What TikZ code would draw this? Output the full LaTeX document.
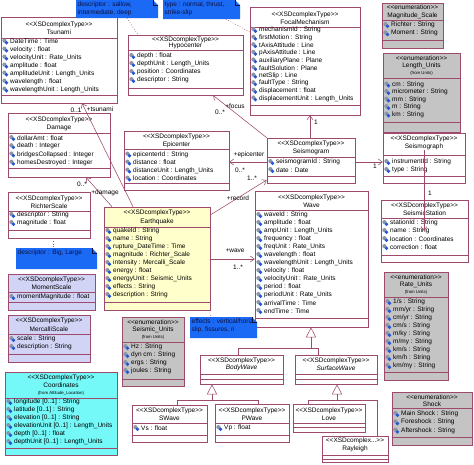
\documentclass[tikz,border=0pt]{standalone}
\usepackage{fontspec}
\setmainfont{Liberation Sans}
\usetikzlibrary{arrows.meta,fit}
\definecolor{bcol}{HTML}{9E4A6C}
\definecolor{eqfill}{HTML}{FFFFCC}
\definecolor{lav}{HTML}{D2D4F6}
\definecolor{cyanf}{HTML}{74F8F8}
\definecolor{enum}{HTML}{C4C4C4}
\definecolor{nfill}{HTML}{1A6AF5}
\definecolor{ntext}{HTML}{101040}
\definecolor{icg}{HTML}{8A96A8}
\definecolor{icb}{HTML}{2458D8}
\newcommand\fs{\fontsize{6.5}{7.8}\selectfont}
\newcommand\fsm{\fontsize{4.3}{5}\selectfont}
\newcommand\lls{<\kern0pt<}
\newcommand\ggs{>\kern0pt>}
\newcommand\stt{\lls XSDcomplexType\ggs}
\newcommand\ste{\lls enumeration\ggs}
\tikzset{
  box/.style={draw=bcol, line width=0.6pt},
  clsbox/.style={box, inner sep=0pt},
  hd/.style={font=\fs, inner sep=0pt, anchor=center},
  att/.style={font=\fs, inner sep=0pt, anchor=west},
  frm/.style={font=\fsm, inner sep=0pt},
  lbl/.style={font=\fs, inner sep=0pt},
  assoc/.style={draw=bcol, line width=0.55pt, -{Straight Barb[length=4pt,width=6pt]}},
  gline/.style={draw=bcol, line width=0.55pt},
  gen/.style={draw=bcol, line width=0.55pt, -{Triangle[open, length=10pt, width=10pt]}},
  dotl/.style={draw=bcol, line width=0.6pt, dotted},
  notet/.style={font=\fs, text=ntext, inner sep=0pt, align=left, anchor=north west}
}
% class box: name, x1, y1, x2, y2, fill, sep1, sep2
\newcommand\umlc[8]{%
  \node[clsbox, fill=#6, fit={(#2,#3) (#4,#5)}] (#1) {};
  \draw[box] (#2,#7) -- (#4,#7);
  \draw[box] (#2,#8) -- (#4,#8);
}
% header: name, y stereo, stereo, y name, name text
\newcommand\umlh[5]{%
  \node[hd] (#1-s) at (#1.north |- 0,#2) {#3};
  \node[hd] (#1-n) at (#1.north |- 0,#4) {#5};
}
% attributes: name, x1, y0, step, list
\newcommand\umla[5]{%
  \foreach \attx [count=\idx from 0] in {#5}{%
    \pgfmathsetmacro\yy{#3+\idx*#4}
    \fill[icg] (#2+3.4,\yy-0.9) circle (2.1);
    \fill[icb] (#2+5.4,\yy-0.7) -- (#2+7.3,\yy+1.2) -- (#2+5.4,\yy+3.1) -- (#2+3.5,\yy+1.2) -- cycle;
    \node[att] (#1-a\idx) at (#2+9,\yy) {\attx};
  }%
}
% note: name, x1, y1, x2, y2, text
\newcommand\umlnote[6]{%
  \node[inner sep=0pt, fit={(#2,#3) (#4,#5)}] (#1) {};
  \fill[nfill] (#2,#3) -- (#4-5,#3) -- (#4,#3+5) -- (#4,#5) -- (#2,#5) -- cycle;
  \draw[ntext, line width=0.4pt] (#4-5,#3) -- (#4-5,#3+5) -- (#4,#3+5);
  \node[notet] (#1-t) at (#2+1.5,#3+1.5) {#6};
}
\begin{document}
\begin{tikzpicture}[x=1pt,y=-1pt]
\fill[white] (0,0) rectangle (474,464);
\useasboundingbox (0,0) rectangle (474,464);

% ---- classes ----
\umlc{tsu}{1}{17}{117}{103}{white}{38}{95}
\umlh{tsu}{24.5}{\stt}{32}{Tsunami}
\umla{tsu}{1}{41.5}{8}{DateTime : Time, velocity : float, velocityUnit : Rate\_Units, amplitude : float, amplitudeUnit : Length\_Units, wavelength : float, wavelengthUnit : Length\_Units}

\umlc{hyp}{128}{35}{243}{95}{white}{50}{88}
\umlh{hyp}{39.5}{\stt}{46}{Hypocenter}
\umla{hyp}{128}{56}{8}{depth : float, depthUnit : Length\_Units, position : Coordinates, descriptor : String}

\umlc{foc}{250}{7}{360}{115}{white}{27}{105}
\umlh{foc}{14.5}{\stt}{22}{FocalMechanism}
\umla{foc}{250}{30}{7.6}{mechanismId : String, firstMotion : String, tAxisAttitude : Line, pAxisAttitude : Line, auxiliaryPlane : Plane, faultSolution : Plane, netSlip : Line, faultType : String, displacement : float, displacementUnit : Length\_Units}

\umlc{mag}{382}{3}{443}{48}{enum}{20.5}{40}
\umlh{mag}{7.5}{\ste}{15.5}{Magnitude\_Scale}
\umla{mag}{382}{25}{8.3}{Richter : String, Moment : String}

\umlc{len}{383}{53}{460}{132}{enum}{78}{122}
\umlh{len}{58.5}{\ste}{66}{Length\_Units}
\node[frm] (len-f) at (len.north |- 0,73) {(from Units)};
\umla{len}{383}{84.5}{7.5}{cm : String, micrometer : String, mm : String, m : String, km : String}

\umlc{dam}{8}{113}{110}{177}{white}{133.5}{168}
\umlh{dam}{120}{\stt}{128}{Damage}
\umla{dam}{8}{138}{8.2}{dollarAmt : float, death : Integer, bridgesCollapsed : Integer, homesDestroyed : Integer}

\umlc{epi}{124}{131}{229}{190}{white}{149}{183}
\umlh{epi}{137}{\stt}{144.5}{Epicenter}
\umla{epi}{124}{154.5}{8}{epicenterId : String, distance : float, distanceUnit : Length\_Units, location : Coordinates}

\umlc{sgm}{267}{138}{355}{183}{white}{157}{176.5}
\umlh{sgm}{144}{\stt}{151.5}{Seismogram}
\umla{sgm}{267}{162}{8}{seismogramId : String, date : Date}

\umlc{sgp}{383}{133}{465}{183}{white}{155}{176.5}
\umlh{sgp}{139}{\stt}{147}{Seismograph}
\umla{sgp}{383}{162}{8}{instrumentId : String, type : String}

\umlc{sta}{381}{200}{468}{262}{white}{218}{255}
\umlh{sta}{205.5}{\stt}{213}{SeismicStation}
\umla{sta}{381}{223}{8}{stationId : String, name : String, location : Coordinates, correction : float}

\umlc{wav}{255}{191}{368}{327}{white}{210.5}{318}
\umlh{wav}{198}{\stt}{205.5}{Wave}
\umla{wav}{255}{215}{8}{waveId : String, amplitude : float, ampUnit : Length\_Units, frequency : float, freqUnit : Rate\_Units, wavelength : float, wavelengthUnit : Length\_Units, velocity : float, velocityUnit : Rate\_Units, period : float, periodUnit : Rate\_Units, arrivalTime : Time, endTime : Time}

\umlc{eq}{104}{207}{210}{310}{eqfill}{227}{302}
\umlh{eq}{213}{\stt}{221.5}{Earthquake}
\umla{eq}{104}{231}{8}{quakeId : String, name : String, rupture\_DateTime : Time, magnitude : Richter\_Scale, intensity : Mercalli\_Scale, energy : float, energyUnit : Seismic\_Units, effects : String, description : String}

\umlc{ric}{8}{192}{90}{238}{white}{211}{230}
\umlh{ric}{198.5}{\stt}{206}{RichterScale}
\umla{ric}{8}{215}{8}{descriptor : String, magnitude : float}

\umlc{mom}{8}{274}{95}{310}{lav}{292}{302}
\umlh{mom}{279.5}{\stt}{287}{MomentScale}
\umla{mom}{8}{297}{8}{momentMagnitude : float}

\umlc{mer}{8}{315}{90}{362}{lav}{334}{354}
\umlh{mer}{321}{\stt}{329}{MercalliScale}
\umla{mer}{8}{339}{8}{scale : String, description : String}

\umlc{crd}{5}{372}{117}{455}{cyanf}{398}{448}
\umlh{crd}{377.5}{\stt}{385}{Coordinates}
\node[frm] (crd-f) at (crd.north |- 0,393) {(from Attitude\_Location)};
\umla{crd}{5}{402}{8}{longitude [0..1] : String, latitude [0..1] : String, elevation [0..1] : String, elevationUnit [0..1] : Length\_Units, depth [0..1] : float, depthUnit [0..1] : Length\_Units}

\umlc{seu}{122}{317}{184}{386}{enum}{342}{379}
\umlh{seu}{322}{\ste}{330}{Seismic\_Units}
\node[frm] (seu-f) at (seu.north |- 0,337.5) {(from Units)};
\umla{seu}{122}{347}{8}{Hz : String, dyn cm : String, ergs : String, joules : String}

\umlc{rat}{384}{272}{448}{380}{enum}{297}{372}
\umlh{rat}{277}{\ste}{285}{Rate\_Units}
\node[frm] (rat-f) at (rat.north |- 0,292) {(from Units)};
\umla{rat}{384}{302}{8}{1/s : String, mm/yr : String, cm/yr : String, cm/s : String, m/ky : String, m/my : String, km/s : String, km/h : String, km/my : String}

\umlc{sho}{392}{392}{472}{445}{enum}{408.5}{437}
\umlh{sho}{397.5}{\ste}{404}{Shock}
\umla{sho}{392}{414}{8.3}{Main Shock : String, Foreshock : String, Aftershock : String}

\umlc{bod}{200}{355}{283}{384}{white}{374}{379}
\umlh{bod}{360.5}{\stt}{368}{\itshape BodyWave}

\umlc{sur}{295}{355}{377}{384}{white}{374}{379}
\umlh{sur}{360.5}{\stt}{368}{\itshape SurfaceWave}

\umlc{swv}{132}{405}{207}{442}{white}{423}{435}
\umlh{swv}{411}{\stt}{418.5}{SWave}
\umla{swv}{132}{428}{8}{Vs : float}

\umlc{pwv}{215}{404}{289}{442}{white}{423}{435}
\umlh{pwv}{410.5}{\stt}{418}{PWave}
\umla{pwv}{215}{428}{8}{Vp : float}

\umlc{lov}{293}{404}{365}{432}{white}{423}{427.5}
\umlh{lov}{410.5}{\stt}{418}{Love}

\umlc{ray}{322}{436}{388}{462}{white}{455.5}{459}
\umlh{ray}{441}{\lls XSDcomplex...\ggs}{449}{Rayleigh}

% ---- notes ----
\umlnote{n1}{76}{0}{158}{18}{descriptor : sallow,\\intermediate, deep}
\umlnote{n2}{163}{0}{240}{19}{type : normal, thrust,\\strike-slip}
\umlnote{n3}{16}{248}{97}{269}{descriptor : Big, Large}
\umlnote{n4}{190}{317}{257}{338}{effects : vertical/horiz\\slip, fissures, ri}

\draw[dotl] (n1.south -| 127,0) -- (hyp.north -| 138,0);
\draw[dotl] (n2.south -| 226,0) -- (foc.west |- 0,32);
\draw[dotl] (ric.south -| 53,0) -- (n3.north -| 53,0);
\draw[dotl] (eq.south -| 209,0) -- (n4.north -| 211,0);

% ---- associations ----
\draw[assoc] (eq.north -| 133,0) -- (tsu.south -| 82,0);
\node[lbl] (l1) at (76,110.5) {0..1};
\node[lbl] (l2) at (100,109) {+tsunami};
\draw[assoc] (eq.north -| 112,0) -- (dam.south -| 86,0);
\node[lbl] (l3) at (82,184.5) {0..*};
\node[lbl] (l4) at (105,193) {+damage};
\draw[assoc] (sgm.north west) -- (hyp.south -| 213,0);
\node[lbl] (l5) at (235,106) {+focus};
\node[lbl] (l6) at (220,112.5) {0..*};
\draw[assoc] (sgm.west |- 0,162) -- (epi.east |- 0,162);
\node[lbl] (l7) at (249,155) {+epicenter};
\node[lbl] (l8) at (240,170.5) {0..*};
\draw[assoc] (eq.east |- 0,215) -- (sgm.west |- 0,180);
\node[lbl] (l9) at (238,198) {+record};
\node[lbl] (l10) at (252,178) {1..*};
\draw[assoc] (eq.east |- 0,259) -- (wav.west |- 0,259);
\node[lbl] (l11) at (235,251) {+wave};
\node[lbl] (l12) at (238,267) {1..*};
\draw[assoc] (sgm.north -| 310,0) -- (foc.south -| 310,0);
\node[lbl] (l13) at (316,122) {1};
\draw[assoc] (sgm.east |- 0,162) -- (sgp.west |- 0,162);
\node[lbl] (l14) at (375,166.5) {1};
\draw[assoc] (sgp-n.south -| 424,0) -- (sta-a1.west -| 424,0);
\node[lbl] (l15) at (430,193) {1};

% ---- generalizations ----
\coordinate (g1) at (311,348);
\coordinate (g1l) at (238,348);
\coordinate (g1r) at (318,348);
\draw[gline] (bod.north -| g1l) -- (g1l) -- (g1r) -- (sur.north -| g1r);
\draw[gen] (g1) -- (wav.south -| g1);
\coordinate (g2) at (212,400);
\coordinate (g2l) at (177,400);
\coordinate (g2r) at (258,400);
\draw[gline] (swv.north -| g2l) -- (g2l) -- (g2r) -- (pwv.north -| g2r);
\draw[gen] (g2) -- (bod.south -| g2);
\coordinate (g3) at (337,400);
\coordinate (g3l) at (308,400);
\coordinate (g3r) at (377,400);
\draw[gline] (lov.north -| g3l) -- (g3l) -- (g3r) -- (ray.north -| g3r);
\draw[gen] (g3) -- (sur.south -| g3);
\end{tikzpicture}
\end{document}
